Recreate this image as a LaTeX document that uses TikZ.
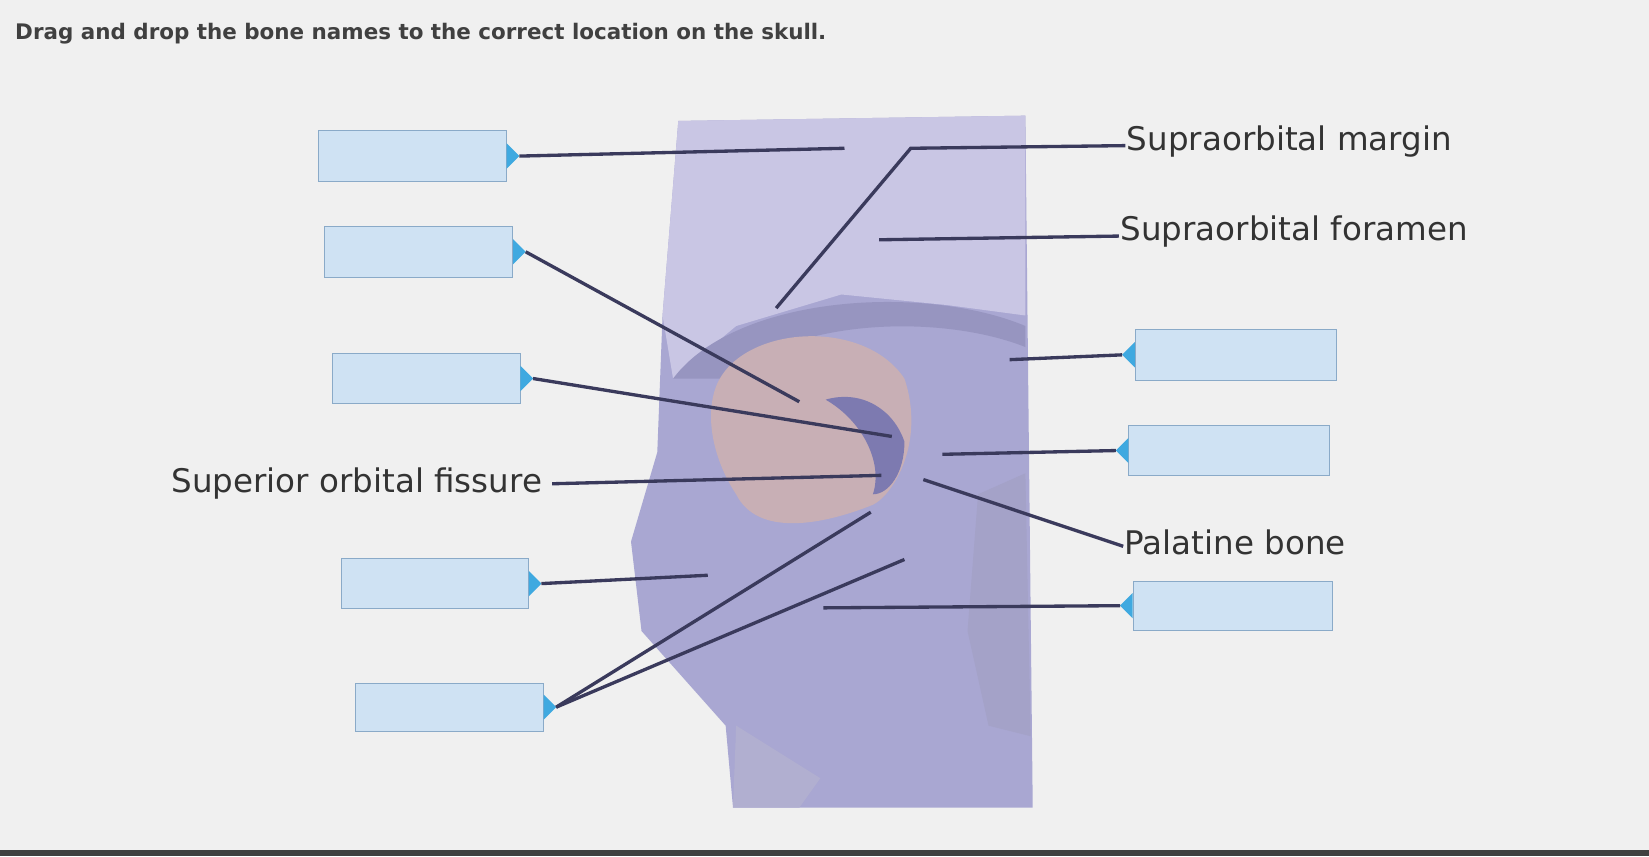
\documentclass[tikz,border=0pt]{standalone}
\usepackage{fontspec}
\setmainfont{DejaVu Sans}
\begin{document}
\begin{tikzpicture}[x=0.05cm,y=-0.05cm,
  box/.style={draw=boxedge,fill=boxfill,line width=1.2pt},
  ln/.style={draw=lineclr,line width=4.5pt},
  lbl/.style={font=\fontsize{44}{48}\selectfont,text=black!80,inner sep=2pt},
  tipR/.style={fill=tipclr},
]
\definecolor{boxfill}{HTML}{CFE2F3}
\definecolor{boxedge}{HTML}{8AAAC8}
\definecolor{tipclr}{HTML}{3FA9E0}
\definecolor{lineclr}{HTML}{3A3A5C}
\definecolor{skull}{HTML}{A9A7D2}
\definecolor{skulld}{HTML}{7D7AB0}
\definecolor{skulll}{HTML}{C9C6E4}
\definecolor{orbit}{HTML}{C8AFB5}
\useasboundingbox (0,0) rectangle (1568,814);
\fill[gray!12] (0,0) rectangle (1568,814);
\fill[black!75] (0,808) rectangle (1568,814);
\node[anchor=west,font=\fontsize{29}{33}\selectfont\bfseries,text=black!75] (title) at (12,32) {Drag and drop the bone names to the correct location on the skull.};
% skull picture
\fill[skull] (645,115) -- (975,110) -- (982,768) -- (697,768) -- (690,690) -- (610,600) -- (600,515) -- (625,430) -- (630,300) -- cycle;
\fill[skulll] (645,115) -- (975,110) -- (975,300) -- (900,290) -- (800,280) -- (700,310) -- (640,360) -- (630,300) -- cycle;
\fill[skulld!80] (640,360) .. controls (700,280) and (880,270) .. (975,310) -- (975,330) .. controls (900,300) and (760,300) .. (690,360) -- cycle;
\fill[orbit] (680,370) .. controls (700,310) and (820,300) .. (860,360) .. controls (880,420) and (850,470) .. (830,480) .. controls (780,500) and (720,510) .. (700,470) .. controls (680,440) and (670,400) .. (680,370) -- cycle;
\fill[skulld] (785,380) .. controls (820,370) and (850,390) .. (860,420) .. controls (860,450) and (845,470) .. (830,470) .. controls (840,440) and (820,400) .. (785,380) -- cycle;
\fill[skulld!70] (930,470) -- (975,450) -- (980,700) -- (940,690) -- (920,600) -- cycle;
\fill[skulld!60] (700,690) -- (780,740) -- (760,768) -- (697,768) -- cycle;
% boxes
\node[box,minimum width=179*0.05cm,minimum height=48*0.05cm,anchor=north west] (b1) at (302,124) {};
\node[box,minimum width=179*0.05cm,minimum height=48*0.05cm,anchor=north west] (b2) at (308,215) {};
\node[box,minimum width=178*0.05cm,minimum height=47*0.05cm,anchor=north west] (b3) at (316,336) {};
\node[box,minimum width=178*0.05cm,minimum height=47*0.05cm,anchor=north west] (b4) at (324,531) {};
\node[box,minimum width=178*0.05cm,minimum height=46*0.05cm,anchor=north west] (b5) at (338,649) {};
\node[box,minimum width=191*0.05cm,minimum height=48*0.05cm,anchor=north west] (r1) at (1079,313) {};
\node[box,minimum width=191*0.05cm,minimum height=48*0.05cm,anchor=north west] (r2) at (1073,404) {};
\node[box,minimum width=190*0.05cm,minimum height=47*0.05cm,anchor=north west] (r3) at (1077,552) {};
\foreach \n in {b1,b2,b3,b4,b5}{
  \fill[tipR] ([yshift=0.6cm]\n.east) -- ++(12,12) -- ([yshift=-0.6cm]\n.east) -- cycle;}
\foreach \n in {r1,r2,r3}{
  \fill[tipR] ([yshift=0.6cm]\n.west) -- ++(-12,12) -- ([yshift=-0.6cm]\n.west) -- cycle;}
% labels
\node[lbl,anchor=base east] (sof) at (517,468) {Superior orbital fissure};
\node[lbl,anchor=base west] (sm) at (1070,143) {Supraorbital margin};
\node[lbl,anchor=base west] (sf) at (1064,229) {Supraorbital foramen};
\node[lbl,anchor=base west] (pb) at (1068,527) {Palatine bone};
% target points
\coordinate (t1) at (803,141);
\coordinate (t2) at (760,382);
\coordinate (t3) at (848,415);
\coordinate (t4) at (673,547);
\coordinate (t5a) at (828,487);
\coordinate (t5b) at (860,532);
\coordinate (tsof) at (838,452);
\coordinate (tsm) at (738,293);
\coordinate (tsmk) at (866,141);
\coordinate (tsf) at (836,228);
\coordinate (tr1) at (960,342);
\coordinate (tr2) at (896,432);
\coordinate (tpb) at (878,456);
\coordinate (tr3) at (783,578);
\draw[ln] ([xshift=0.6cm]b1.east) -- (t1);
\draw[ln] ([xshift=0.6cm]b2.east) -- (t2);
\draw[ln] ([xshift=0.6cm]b3.east) -- (t3);
\draw[ln] ([xshift=0.6cm]b4.east) -- (t4);
\draw[ln] ([xshift=0.6cm]b5.east) -- (t5a);
\draw[ln] ([xshift=0.6cm]b5.east) -- (t5b);
\draw[ln] ([xshift=0.4cm,yshift=0.4cm]sof.base east) -- (tsof);
\draw[ln] ([yshift=-0.2cm]sm.west) -- (tsmk) -- (tsm);
\draw[ln] ([yshift=-0.2cm]sf.west) -- (tsf);
\draw[ln] ([xshift=-0.6cm]r1.west) -- (tr1);
\draw[ln] ([xshift=-0.6cm]r2.west) -- (tr2);
\draw[ln] ([yshift=-0.2cm]pb.west) -- (tpb);
\draw[ln] ([xshift=-0.6cm]r3.west) -- (tr3);
\end{tikzpicture}
\end{document}
